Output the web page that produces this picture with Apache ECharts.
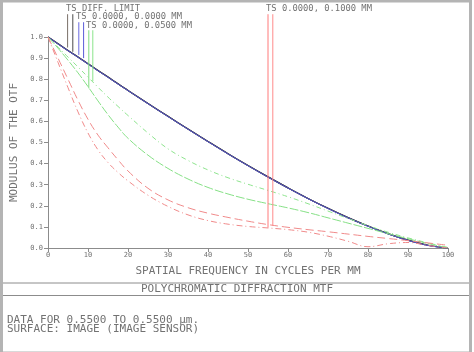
<!DOCTYPE html>
<html>
<head>
<meta charset="utf-8">
<script src="https://cdn.jsdelivr.net/npm/echarts@6/dist/echarts.min.js"></script>
<style>
  html, body { margin: 0; padding: 0; background: #fff; }
  #mtfChart { width: 474px; height: 352px; }
</style>
</head>
<body>
<div id="mtfChart"></div>
<script>
// spatial frequency, cycles per mm
const freq = [0, 2.5, 5, 7.5, 10, 12.5, 15, 17.5, 20, 25, 30, 35, 40, 45, 50, 55, 60, 65, 70, 75, 80, 85, 90, 95, 100];

const diffT = [1, 0.968, 0.936, 0.905, 0.873, 0.841, 0.81, 0.778, 0.747, 0.685, 0.624, 0.564, 0.505, 0.447, 0.391, 0.337, 0.285, 0.235, 0.188, 0.144, 0.104, 0.068, 0.037, 0.013, 0];
const diffS = [1, 0.968, 0.936, 0.905, 0.873, 0.841, 0.81, 0.778, 0.747, 0.685, 0.624, 0.564, 0.505, 0.447, 0.391, 0.337, 0.285, 0.235, 0.188, 0.144, 0.104, 0.068, 0.037, 0.013, 0];
const axisT = [1, 0.967, 0.935, 0.904, 0.872, 0.84, 0.809, 0.777, 0.746, 0.684, 0.623, 0.563, 0.504, 0.446, 0.39, 0.336, 0.284, 0.234, 0.187, 0.143, 0.103, 0.067, 0.036, 0.012, 0];
const axisS = [1, 0.967, 0.935, 0.904, 0.872, 0.84, 0.809, 0.777, 0.746, 0.684, 0.623, 0.563, 0.504, 0.446, 0.39, 0.336, 0.284, 0.234, 0.187, 0.143, 0.103, 0.067, 0.036, 0.012, 0];
const f05T = [1, 0.947, 0.89, 0.83, 0.765, 0.697, 0.632, 0.573, 0.52, 0.44, 0.377, 0.327, 0.287, 0.256, 0.231, 0.21, 0.19, 0.168, 0.143, 0.118, 0.093, 0.068, 0.044, 0.021, 0.001];
const f05S = [1, 0.952, 0.905, 0.858, 0.81, 0.762, 0.715, 0.671, 0.628, 0.545, 0.47, 0.415, 0.37, 0.333, 0.302, 0.273, 0.243, 0.21, 0.175, 0.14, 0.106, 0.075, 0.048, 0.024, 0.003];
const f10T = [1, 0.88, 0.76, 0.645, 0.545, 0.465, 0.405, 0.358, 0.318, 0.25, 0.197, 0.157, 0.13, 0.113, 0.102, 0.095, 0.087, 0.075, 0.056, 0.032, 0.006, 0.02, 0.026, 0.012, 0];
const f10S = [1, 0.9, 0.8, 0.7, 0.61, 0.535, 0.475, 0.418, 0.365, 0.283, 0.228, 0.191, 0.165, 0.145, 0.127, 0.111, 0.098, 0.087, 0.077, 0.066, 0.055, 0.045, 0.035, 0.024, 0.013];

// legend pointer lines: frequency where they drop, value where they stop
const markFreq = [4.9, 6.2, 7.7, 8.9, 10.2, 11.2, 55.0, 56.2];
const markEnd = [0.95, 0.93, 0.915, 0.9, 0.757, 0.79, 0.097, 0.105];
const markTop = [1.108, 1.108, 1.07, 1.07, 1.032, 1.032, 1.108, 1.108];

const legendText = ["TS DIFF. LIMIT", "TS 0.0000, 0.0000 MM", "TS 0.0000, 0.0500 MM", "TS 0.0000, 0.1000 MM"];

const font = "'DejaVu Sans Mono', monospace";
const textGray = "#727272";
const axisGray = "#8c8c8c";

const chart = echarts.init(document.getElementById("mtfChart"));

function pairs(ys) {
  return freq.map(function (f, i) { return [f, ys[i]]; });
}

function curve(ys, color, type, width, opacity) {
  return {
    type: "line",
    data: pairs(ys),
    smooth: 0.4,
    showSymbol: false,
    symbol: "none",
    animation: false,
    lineStyle: { color: color, width: width, type: type, opacity: opacity },
    z: 3,
  };
}

const markColors = ["#7a7068", "#4a4a4a", "#6a6ae0", "#5a5ad8", "#7fdc7f", "#8be48b", "#ff7a7a", "#ff8a8a"];

const markSeries = markFreq.map(function (f, i) {
  return {
    type: "line",
    data: [[f, markTop[i]], [f, markEnd[i]]],
    clip: false,
    showSymbol: false,
    symbol: "none",
    animation: false,
    lineStyle: { color: markColors[i], width: 1 },
    z: 4,
  };
});

const option = {
  backgroundColor: "#fff",
  animation: false,
  grid: { left: 48, right: 26, top: 37, bottom: 104, containLabel: false, outerBoundsMode: "none" },
  xAxis: [
    {
      type: "value",
      min: 0,
      max: 100,
      interval: 10,
      name: "SPATIAL FREQUENCY IN CYCLES PER MM",
      nameLocation: "middle",
      nameGap: 18,
      nameTextStyle: { fontFamily: font, fontSize: 11, color: textGray },
      axisLine: { lineStyle: { color: axisGray, width: 1 } },
      axisTick: { show: true, inside: false, length: 3, lineStyle: { color: axisGray } },
      axisLabel: { fontFamily: font, fontSize: 7, color: textGray, margin: 4 },
      splitLine: { show: false },
    },
    {
      type: "value",
      position: "top",
      min: 0,
      max: 100,
      interval: 10,
      axisLine: { show: true, lineStyle: { color: axisGray, width: 1 } },
      axisTick: { show: true, inside: true, length: 4, lineStyle: { color: axisGray } },
      axisLabel: { show: false },
      splitLine: { show: false },
    },
  ],
  yAxis: [
    {
      type: "value",
      min: 0,
      max: 1,
      interval: 0.1,
      name: "MODULUS OF THE OTF",
      nameLocation: "middle",
      nameGap: 28,
      nameTextStyle: { fontFamily: font, fontSize: 11, color: textGray },
      axisLine: { show: true, lineStyle: { color: axisGray, width: 1 } },
      axisTick: { show: true, inside: false, length: 3, lineStyle: { color: axisGray } },
      axisLabel: {
        fontFamily: font, fontSize: 7, color: textGray, margin: 5,
        formatter: function (v) { return v.toFixed(1); },
      },
      splitLine: { show: false },
    },
    {
      type: "value",
      position: "right",
      min: 0,
      max: 1,
      interval: 0.1,
      axisLine: { show: true, lineStyle: { color: axisGray, width: 1 } },
      axisTick: { show: true, inside: true, length: 4, lineStyle: { color: axisGray } },
      axisLabel: { show: false },
      splitLine: { show: false },
    },
  ],
  series: [
    curve(diffT, "#3a3a3a", "solid", 1.2, 1),
    curve(diffS, "#3a3a3a", "solid", 1.2, 1),
    curve(axisT, "#5656c8", "solid", 1, 0.75),
    curve(axisS, "#5656c8", "solid", 1, 0.75),
    curve(f05T, "#86e086", [9, 2], 1, 1),
    curve(f05S, "#8ee48e", [5, 3, 1, 3], 1, 1),
    curve(f10T, "#f08a8a", [6, 3, 1, 3], 1, 1),
    curve(f10S, "#f08a8a", [8, 4], 1, 1),
  ].concat(markSeries),
  graphic: [
    // outer frame and divider lines
    { type: "rect", shape: { x: 1.5, y: 1, width: 469, height: 352 }, style: { fill: null, stroke: "#b4b4b4", lineWidth: 3 }, z: 1 },
    { type: "line", shape: { x1: 0, y1: 283, x2: 470, y2: 283 }, style: { stroke: "#8c8c8c", lineWidth: 1 } },
    { type: "line", shape: { x1: 0, y1: 295.5, x2: 470, y2: 295.5 }, style: { stroke: "#8c8c8c", lineWidth: 1 } },
    // legend labels
    { type: "text", x: 66, y: 8.5, style: { text: legendText[0], font: "8.8px " + font, fill: textGray, verticalAlign: "middle" } },
    { type: "text", x: 76, y: 17, style: { text: legendText[1], font: "8.8px " + font, fill: textGray, verticalAlign: "middle" } },
    { type: "text", x: 86, y: 25.5, style: { text: legendText[2], font: "8.8px " + font, fill: textGray, verticalAlign: "middle" } },
    { type: "text", x: 266, y: 8.5, style: { text: legendText[3], font: "8.8px " + font, fill: textGray, verticalAlign: "middle" } },
    // captions
    { type: "text", x: 237, y: 289.5, style: { text: "POLYCHROMATIC DIFFRACTION MTF", font: "11px " + font, fill: textGray, align: "center", verticalAlign: "middle" } },
    { type: "text", x: 7, y: 320, style: { text: "DATA FOR 0.5500 TO 0.5500 µm.", font: "11px " + font, fill: textGray, verticalAlign: "middle" } },
    { type: "text", x: 7, y: 329, style: { text: "SURFACE: IMAGE (IMAGE SENSOR)", font: "11px " + font, fill: textGray, verticalAlign: "middle" } },
  ],
};

chart.setOption(option);
</script>
</body>
</html>
